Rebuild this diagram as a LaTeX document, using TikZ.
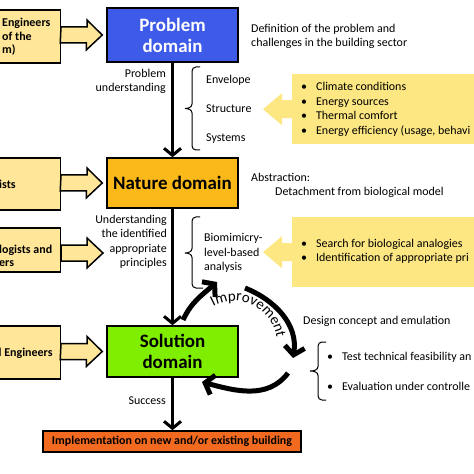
\documentclass[tikz,border=0pt]{standalone}
\usepackage{fontspec}
\setmainfont{Carlito}
\usepackage{tikz}
\usetikzlibrary{positioning, arrows.meta, decorations.text}
\definecolor{problemblue}{RGB}{61, 90, 233}
\definecolor{natureorange}{RGB}{250, 185, 25}
\definecolor{solutiongreen}{RGB}{128, 238, 0}
\definecolor{buildorange}{RGB}{242, 105, 32}
\definecolor{actoryellow}{RGB}{255, 230, 153}
\definecolor{noteyellow}{RGB}{253, 231, 130}
\newcommand{\itemdot}{\textbullet\hspace{9bp}}

\begin{document}
\begin{tikzpicture}[x = 1bp, y = 1bp,
  domainbox/.style={draw, line width = 1.5bp, minimum width = 131bp, align = center, font = \fontsize{19}{21}\selectfont\bfseries},
  actorbox/.style={draw, fill = actoryellow, line width = 1.5bp},
  actortext/.style={inner sep = 0pt, align = left, font = \fontsize{12}{13.5}\selectfont\bfseries},
  flowarrow/.style={line width = 3bp, -{Straight Barb[length = 7bp, width = 17bp]}},
  cyclearrow/.style={line width = 5bp, -{Straight Barb[length = 8bp, width = 20bp]}},
  notetext/.style={inner sep = 0pt, align = left, font = \fontsize{12}{14.5}\selectfont},
  calloutfill/.style={fill = noteyellow, draw = none},
  bracestroke/.style={line width = 1bp}]
  \useasboundingbox (0,0) rectangle (474,-474);
  \clip (0,0) rectangle (474,-474);

  % domains
  \node [domainbox, fill = problemblue, text = white, minimum height = 54bp] (problem) at (172.5,-35) {Problem\\domain};
  \node [domainbox, fill = natureorange, minimum height = 50bp] (nature) at (172.5,-183) {Nature domain};
  \node [domainbox, fill = solutiongreen, minimum height = 51bp] (solution) at (172.5,-351.5) {Solution\\domain};
  \node [draw, fill = buildorange, line width = 1.5bp, minimum width = 258bp, minimum height = 21bp, inner sep = 0pt,
         font = \fontsize{12}{13}\selectfont\bfseries] (building) at (172,-441.5) {Implementation on new and/or existing building};

  % actors, cut by the left edge
  \node [actorbox, anchor = east, minimum width = 90bp, minimum height = 53bp] (engineers) at (61,-36.5) {};
  \node [actorbox, anchor = east, minimum width = 90bp, minimum height = 52bp] (biologists) at (61,-184) {};
  \node [actorbox, anchor = east, minimum width = 90bp, minimum height = 44bp] (team) at (61,-250) {};
  \node [actorbox, anchor = east, minimum width = 90bp, minimum height = 53bp] (builders) at (61,-352.5) {};
  \node [actortext, anchor = west] (engineerstext) at (2,-37) {Engineers\\of the\\m)};
  \node [actortext, anchor = west] (biologiststext) at (-1,-184) {ists};
  \node [actortext, anchor = west] (teamtext) at (-1,-256) {logists and\\ers};
  \node [actortext, anchor = west] (builderstext) at (-1.5,-353) {l Engineers};

  % block arrows
  \coordinate (problemtip) at ([xshift = -4bp]problem.west);
  \coordinate (naturetip) at ([xshift = -4bp]nature.west);
  \coordinate (principlestip) at (103,-253);
  \coordinate (solutiontip) at ([xshift = -4bp]solution.west);
  \foreach \src/\tip in {engineers/problemtip, biologists/naturetip, team/principlestip, builders/solutiontip}
    \draw [actorbox, line join = miter] (\src.east |- \tip) ++(0,8) -- ++(26,0) -- ++(0,7) -- (\tip)
      -- ++(-16,-15) -- ++(0,7) -- ++(-26,0) -- cycle;

  % main flow
  \draw [flowarrow] (problem) -- (nature);
  \draw [flowarrow] (nature) -- (solution);
  \draw [flowarrow] (solution) -- (solution.south |- building.north);

  % labels
  \node [notetext, anchor = west] (definition) at (251,-36.5) {Definition of the problem and\\challenges in the building sector};
  \node [notetext, anchor = east, align = right] (understanding) at (166,-81.5) {Problem\\understanding};
  \node [notetext, anchor = west] (envelope) at (206,-80) {Envelope};
  \node [notetext, anchor = west] (structure) at (206,-109) {Structure};
  \node [notetext, anchor = west] (systems) at (206,-139) {Systems};
  \node [notetext, anchor = west] (abstraction) at (251,-177) {Abstraction:};
  \node [notetext, anchor = west] (detachment) at (275,-192) {Detachment from biological model};
  \node [notetext, anchor = east, align = right] (principles) at (167,-242) {Understanding\\the identified\\appropriate\\principles};
  \node [notetext, anchor = west] (analysis) at (204,-253) {Biomimicry-\\level-based\\analysis};
  \node [notetext, anchor = west] (design) at (303,-321) {Design concept and emulation};
  \node [notetext, anchor = west] (feasibility) at (327,-357) {\itemdot Test technical feasibility an};
  \node [notetext, anchor = west] (evaluation) at (327,-386) {\itemdot Evaluation under controlle};
  \node [notetext, anchor = east] (success) at (166,-401) {Success};

  % braces
  \draw [bracestroke] (200,-67) -- (196,-67) to[out=180, in=90] (192,-71) -- (192,-104) to[out=-90, in=0] (185,-108.5)
    to[out=0, in=90] (192,-113) -- (192,-146) to[out=-90, in=180] (196,-150) -- (200,-150);
  \draw [bracestroke] (200,-217) -- (196,-217) to[out=180, in=90] (192,-221) -- (192,-248.5) to[out=-90, in=0] (185,-253)
    to[out=0, in=90] (192,-257.5) -- (192,-284) to[out=-90, in=180] (196,-288) -- (203,-288);
  \draw [bracestroke] (326,-342) -- (322,-342) to[out=180, in=90] (318,-346) -- (318,-366.5) to[out=-90, in=0] (310,-371)
    to[out=0, in=90] (318,-375.5) -- (318,-396) to[out=-90, in=180] (322,-400) -- (326,-400);

  % callouts
  \node [calloutfill, anchor = north west, minimum width = 190bp, minimum height = 70bp] (conditions) at (292,-74) {};
  \fill [calloutfill] (conditions.west) ++(0.5,9) -- ++(-10.5,0) -- ++(0,7) -- ++(-19,-16) -- ++(19,-16) -- ++(0,7) -- ++(10.5,0) -- cycle;
  \node [notetext, anchor = west] (conditionslist) at (301,-109.5)
    {\itemdot Climate conditions\\\itemdot Energy sources\\\itemdot Thermal comfort\\\itemdot Energy efficiency (usage, behavi};
  \node [calloutfill, anchor = north west, minimum width = 190bp, minimum height = 70bp] (analogies) at (292,-217) {};
  \fill [calloutfill] (analogies.west) ++(0.5,9) -- ++(-10.5,0) -- ++(0,7) -- ++(-19,-16) -- ++(19,-16) -- ++(0,7) -- ++(10.5,0) -- cycle;
  \node [notetext, anchor = west] (analogieslist) at (301,-251.5)
    {\itemdot Search for biological analogies\\\itemdot Identification of appropriate pri};

  % improvement cycle
  \draw [cyclearrow] (183,-320) to[out=65, in=221] (217,-282);
  \draw [cyclearrow] (245,-288) to[out=-22, in=81] (293,-358);
  \draw [cyclearrow] (288,-373) to[out=233, in=-15] (202,-382);
  \path [decorate, decoration={text along path, text align=center, text={|\fontsize{15}{17}\selectfont|Improvement}}]
    ([shift={(-236:43bp)}]234,-344) arc[start angle=-236, end angle=-357, radius=43bp];
\end{tikzpicture}
\end{document}
